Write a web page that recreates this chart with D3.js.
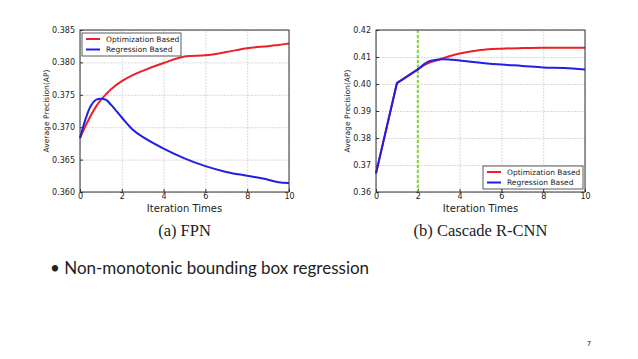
<!DOCTYPE html>
<html lang="en">
<head>
<meta charset="utf-8">
<title>Iteration Times vs AP</title>
<script src="https://d3js.org/d3.v7.min.js"></script>
<style>
  body { margin: 0; background: #fff; }
  svg text { fill: #222; }
</style>
</head>
<body>
<div id="s"></div>
<script>
var width = 638;
var height = 359;

// ---- data ----
var fpnIter   = [0, 0.25, 0.5, 0.75, 1, 1.25, 1.5, 2, 2.5, 3, 4, 5, 6, 7, 8, 9, 9.5, 10];
var fpnOpt    = [0.3683, 0.3701, 0.3717, 0.3731, 0.3742, 0.3751, 0.3759, 0.3771, 0.3780, 0.3787, 0.3799, 0.3809, 0.3811, 0.3816, 0.3822, 0.3825, 0.3827, 0.3829];
var fpnReg    = [0.3683, 0.3711, 0.3732, 0.3742, 0.3744, 0.3742, 0.3734, 0.3715, 0.3697, 0.3685, 0.3667, 0.3652, 0.3640, 0.3631, 0.3625, 0.3619, 0.3615, 0.3614];

var casIter   = [0, 1, 2, 2.5, 3, 3.5, 4, 5, 6, 7, 8, 9, 10];
var casOpt    = [0.3669, 0.4003, 0.4054, 0.4077, 0.4090, 0.4103, 0.4113, 0.4126, 0.4131, 0.4133, 0.4134, 0.4134, 0.4134];
var casReg    = [0.3669, 0.4003, 0.4054, 0.4083, 0.4091, 0.4091, 0.4087, 0.4079, 0.4072, 0.4067, 0.4061, 0.4059, 0.4054];
var casLinearUpTo = 2; // points up to this iteration are joined by straight segments

var xTicks    = [0, 2, 4, 6, 8, 10];
var fpnYTicks = [0.360, 0.365, 0.370, 0.375, 0.380, 0.385];
var casYTicks = [0.36, 0.37, 0.38, 0.39, 0.40, 0.41, 0.42];
var seriesNames = ["Optimization Based", "Regression Based"];
var captions  = ["(a) FPN", "(b) Cascade R-CNN"];
var bullet    = "Non-monotonic bounding box regression";
var pageNo    = "7";
var marker    = 2;   // dashed line position on the cascade plot

var RED = "#ec2027";
var BLUE = "#1f1fe6";

const svg = d3.select("#s")
    .append("svg")
    .attr("width", width)
    .attr("height", height)
    .style("font-family", "'DejaVu Sans', sans-serif");

// one matplotlib-style panel
function panel(opts) {
    var x = d3.scaleLinear().domain([0, 10]).range([opts.left, opts.right]);
    var y = d3.scaleLinear().domain(opts.yDomain).range([opts.bottom, opts.top]);
    var g = svg.append("g");

    // grid
    g.append("g")
        .attr("transform", "translate(0," + opts.bottom + ")")
        .call(d3.axisBottom(x).tickValues(xTicks).tickSize(-(opts.bottom - opts.top)).tickFormat(""))
        .call(a => a.select(".domain").remove())
        .call(a => a.selectAll("line").attr("stroke", "#dadada").attr("stroke-dasharray", "2,1"));
    g.append("g")
        .attr("transform", "translate(" + opts.left + ",0)")
        .call(d3.axisLeft(y).tickValues(opts.yTicks).tickSize(-(opts.right - opts.left)).tickFormat(""))
        .call(a => a.select(".domain").remove())
        .call(a => a.selectAll("line").attr("stroke", "#dadada").attr("stroke-dasharray", "2,1"));

    // axes with inward ticks
    var xa = g.append("g")
        .attr("transform", "translate(0," + opts.bottom + ")")
        .call(d3.axisBottom(x).tickValues(xTicks).tickSizeInner(-3).tickSizeOuter(0).tickPadding(5).tickFormat(d3.format("d")));
    var ya = g.append("g")
        .attr("transform", "translate(" + opts.left + ",0)")
        .call(d3.axisLeft(y).tickValues(opts.yTicks).tickSizeInner(-3).tickSizeOuter(0).tickPadding(5).tickFormat(d3.format(opts.fmt)));
    [xa, ya].forEach(function (a) {
        a.select(".domain").remove();
        a.selectAll("text").attr("font-size", 8).attr("fill", "#333").attr("font-family", "'DejaVu Sans', sans-serif");
        a.selectAll("line").attr("stroke", "#333");
    });
    xa.selectAll("text").attr("dy", "0.2em");

    if (opts.marker != null) {
        g.append("line")
            .attr("x1", x(opts.marker)).attr("x2", x(opts.marker))
            .attr("y1", opts.top).attr("y2", opts.bottom)
            .attr("stroke", "#7fd62a")
            .attr("stroke-width", 2)
            .attr("stroke-dasharray", "3,2");
    }

    var straight = d3.line().x(d => x(d[0])).y(d => y(d[1]));
    var smooth = d3.line().x(d => x(d[0])).y(d => y(d[1])).curve(d3.curveCatmullRom.alpha(0.5));

    [[opts.opt, RED], [opts.reg, BLUE]].forEach(function (s) {
        var pts = opts.iter.map((t, i) => [t, s[0][i]]);
        var cut = opts.linearUpTo;
        var d;
        if (cut == null) {
            d = smooth(pts);
        } else {
            var head = pts.filter(p => p[0] <= cut);
            var tail = pts.filter(p => p[0] >= cut);
            d = straight(head) + smooth(tail).replace(/^M/, "L");
        }
        g.append("path")
            .attr("fill", "none")
            .attr("stroke", s[1])
            .attr("stroke-width", 2)
            .attr("stroke-linejoin", "round")
            .attr("d", d);
    });

    // frame
    g.append("rect")
        .attr("x", opts.left).attr("y", opts.top)
        .attr("width", opts.right - opts.left)
        .attr("height", opts.bottom - opts.top)
        .attr("fill", "none")
        .attr("stroke", "#333")
        .attr("stroke-width", 1);

    // labels
    g.append("text")
        .attr("x", (opts.left + opts.right) / 2)
        .attr("y", opts.bottom + 20)
        .attr("text-anchor", "middle")
        .attr("font-size", 10)
        .text("Iteration Times");
    g.append("text")
        .attr("transform", "translate(" + opts.ylabelX + "," + ((opts.top + opts.bottom) / 2) + ") rotate(-90)")
        .attr("text-anchor", "middle")
        .attr("font-size", 7.6)
        .text("Average Precision(AP)");
    g.append("text")
        .attr("x", (opts.left + opts.right) / 2)
        .attr("y", opts.bottom + 44)
        .attr("text-anchor", "middle")
        .attr("font-size", 16.5)
        .attr("font-family", "'Liberation Serif', 'DejaVu Serif', serif")
        .text(opts.caption);

    // legend
    var lg = g.append("g").attr("transform", "translate(" + opts.legend[0] + "," + opts.legend[1] + ")");
    lg.append("rect")
        .attr("width", opts.legend[2]).attr("height", 23)
        .attr("fill", "#fff").attr("stroke", "#333").attr("stroke-width", 0.8);
    seriesNames.forEach(function (n, i) {
        lg.append("line")
            .attr("x1", 4).attr("x2", 18)
            .attr("y1", 6 + i * 10.5).attr("y2", 6 + i * 10.5)
            .attr("stroke", i ? BLUE : RED).attr("stroke-width", 2);
        lg.append("text")
            .attr("x", 24).attr("y", 6 + i * 10.5)
            .attr("dy", "0.35em")
            .attr("font-size", 7.5)
            .text(n);
    });
}

panel({
    left: 80, right: 289, top: 30, bottom: 192,
    yDomain: [0.360, 0.385], yTicks: fpnYTicks, fmt: ".3f",
    iter: fpnIter, opt: fpnOpt, reg: fpnReg, linearUpTo: null,
    ylabelX: 49,
    caption: captions[0], legend: [82, 33, 99], marker: null
});

panel({
    left: 376, right: 585, top: 30, bottom: 192,
    yDomain: [0.36, 0.42], yTicks: casYTicks, fmt: ".2f",
    iter: casIter, opt: casOpt, reg: casReg, linearUpTo: casLinearUpTo,
    ylabelX: 350,
    caption: captions[1], legend: [483, 166, 100], marker: marker
});

// slide text
svg.append("text")
    .attr("x", 50).attr("y", 274)
    .attr("font-size", 17)
    .attr("font-family", "Lato, 'Noto Sans', sans-serif")
    .attr("fill", "#111")
    .text("\u2022 " + bullet);

svg.append("text")
    .attr("x", 589).attr("y", 346)
    .attr("text-anchor", "middle")
    .attr("font-size", 7)
    .attr("fill", "#888")
    .text(pageNo);
</script>
</body>
</html>
